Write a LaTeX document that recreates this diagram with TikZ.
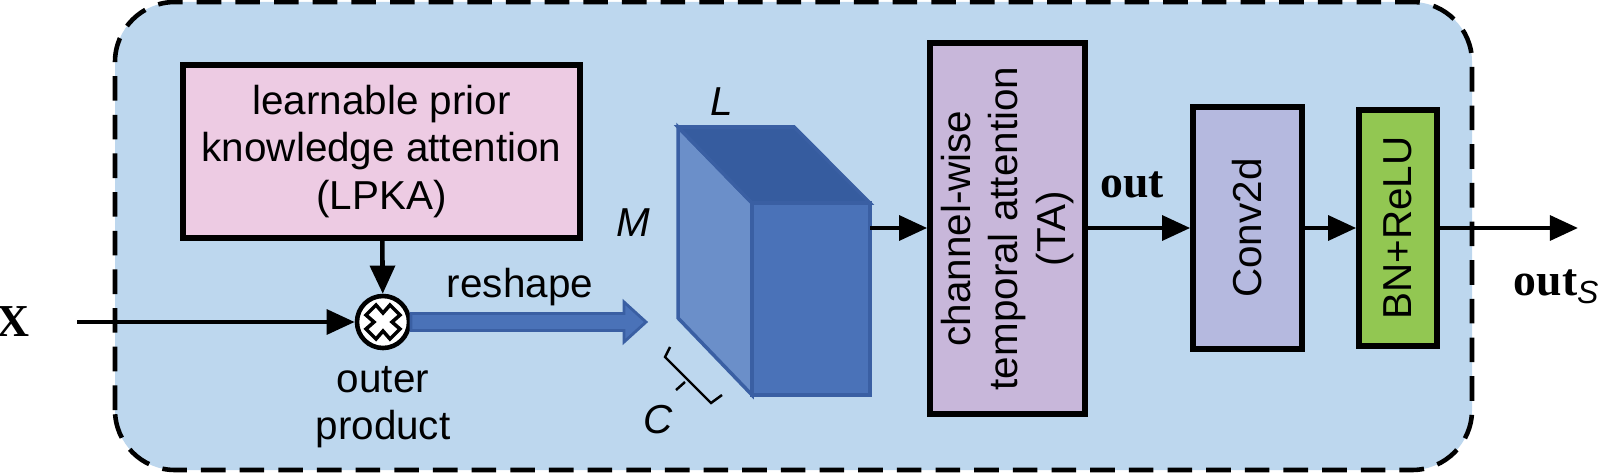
\documentclass[tikz,border=0pt]{standalone}
\usepackage{fontspec}
\setmainfont{Liberation Sans}
\newfontfamily\serifb{Liberation Serif}
\usetikzlibrary{arrows.meta,calc}
\definecolor{bgc}{HTML}{BDD7EE}
\definecolor{pinkc}{HTML}{EDCBE3}
\definecolor{tac}{HTML}{C8B7DA}
\definecolor{convc}{HTML}{B5B9DF}
\definecolor{bnc}{HTML}{92C752}
\definecolor{cfront}{HTML}{4A72B8}
\definecolor{cside}{HTML}{6B8FC9}
\definecolor{ctop}{HTML}{365C9F}
\definecolor{cedge}{HTML}{3A5FA3}
\begin{document}
\begin{tikzpicture}[
  box/.style={draw=black,line width=1.6pt,inner sep=0pt,font=\fontsize{11.5pt}{13.5pt}\selectfont,align=center},
  arr/.style={line width=1.3pt,-{Triangle[length=8pt,width=7pt]}},
  lbl/.style={font=\fontsize{11.5pt}{13.5pt}\selectfont,align=center,inner sep=0pt},
  ital/.style={font=\itshape\fontsize{11.5pt}{13.5pt}\selectfont,inner sep=0pt},
  bold/.style={font=\serifb\bfseries\fontsize{13pt}{15pt}\selectfont,inner sep=0pt}
]
\useasboundingbox (0,0) rectangle (16,4.73);
\draw[fill=bgc,line width=1.3pt,dash pattern=on 7pt off 4pt,rounded corners=0.6cm] (1.15,0.03) rectangle (14.72,4.71);

\node[box,fill=pinkc,minimum width=3.97cm,minimum height=1.73cm] (lpka) at (3.815,3.215) {learnable prior\\knowledge attention\\(LPKA)};
\node[circle,draw=black,fill=white,line width=1.3pt,minimum size=0.52cm,inner sep=0pt] (op) at (3.83,1.51) {};
\draw[line width=1pt,fill=white] ($(op)+(-0.07,0.17)$) -- ($(op)+(0,0.09)$) -- ($(op)+(0.07,0.17)$) -- ($(op)+(0.17,0.07)$) -- ($(op)+(0.09,0)$) -- ($(op)+(0.17,-0.07)$) -- ($(op)+(0.07,-0.17)$) -- ($(op)+(0,-0.09)$) -- ($(op)+(-0.07,-0.17)$) -- ($(op)+(-0.17,-0.07)$) -- ($(op)+(-0.09,0)$) -- ($(op)+(-0.17,0.07)$) -- cycle;
\node[lbl] (optxt) at (3.83,0.66) {outer\\product};
\node[bold] (x) at (0.13,1.51) {X};
\coordinate (xs) at (0.77,1.51);
\draw[arr] (xs) -- (op);
\draw[arr] (lpka) -- (op);

\coordinate (rs) at (4.11,1.51);
\coordinate (rt) at (6.46,1.51);
\draw[cedge,fill=cfront,line width=0.8pt] ($(rs)+(0,0.085)$) -- ($(rt)+(-0.22,0.085)$) -- ($(rt)+(-0.22,0.2)$) -- (rt) -- ($(rt)+(-0.22,-0.2)$) -- ($(rt)+(-0.22,-0.085)$) -- ($(rs)+(0,-0.085)$) -- cycle;
\node[lbl] (rstxt) at (5.20,1.86) {reshape};

\coordinate (btl) at (6.78,3.46);
\coordinate (btr) at (7.94,3.46);
\coordinate (bbl) at (6.78,1.55);
\coordinate (ftl) at (7.52,2.70);
\coordinate (ftr) at (8.70,2.70);
\coordinate (fbl) at (7.52,0.78);
\coordinate (fbr) at (8.70,0.78);
\draw[cedge,line width=1pt,fill=cside] (btl) -- (ftl) -- (fbl) -- (bbl) -- cycle;
\draw[cedge,line width=1pt,fill=ctop] (btl) -- (btr) -- (ftr) -- (ftl) -- cycle;
\draw[cedge,line width=1pt,fill=cfront] (ftl) rectangle (fbr);
\node[ital] (M) at (6.33,2.50) {M};
\node[ital] (L) at (7.22,3.71) {L};
\node[ital] (C) at (6.58,0.53) {C};
\draw[line width=0.7pt] (6.70,1.26) -- (6.65,1.16) -- (7.11,0.70) -- (7.22,0.78);
\draw[line width=0.7pt] (6.85,0.91) -- (6.76,0.83);

\coordinate (cubeout) at (8.70,2.45);
\node[box,fill=tac,minimum width=1.55cm,minimum height=3.71cm] (ta) at (10.075,2.445) {};
\node[lbl,rotate=90] (tatxt) at (ta.center) {channel-wise\\temporal attention\\(TA)};
\draw[arr] (cubeout) -- (ta.west |- cubeout);
\node[box,fill=convc,minimum width=1.09cm,minimum height=2.42cm] (conv) at (12.475,2.45) {};
\node[lbl,rotate=90] (convtxt) at (conv.center) {Conv2d};
\node[box,fill=bnc,minimum width=0.78cm,minimum height=2.36cm] (bn) at (13.98,2.45) {};
\node[lbl,rotate=90] (bntxt) at (bn.center) {BN+ReLU};
\draw[arr] (ta.east |- conv) -- (conv.west);
\draw[arr] (conv.east) -- (bn.west);
\coordinate (end) at (15.78,2.45);
\draw[arr] (bn.east) -- (end);
\node[bold] (out) at (11.32,2.88) {out};
\node[bold] (outs) at (15.57,1.86) {out$_{\mathit{S}}$};
\end{tikzpicture}
\end{document}
